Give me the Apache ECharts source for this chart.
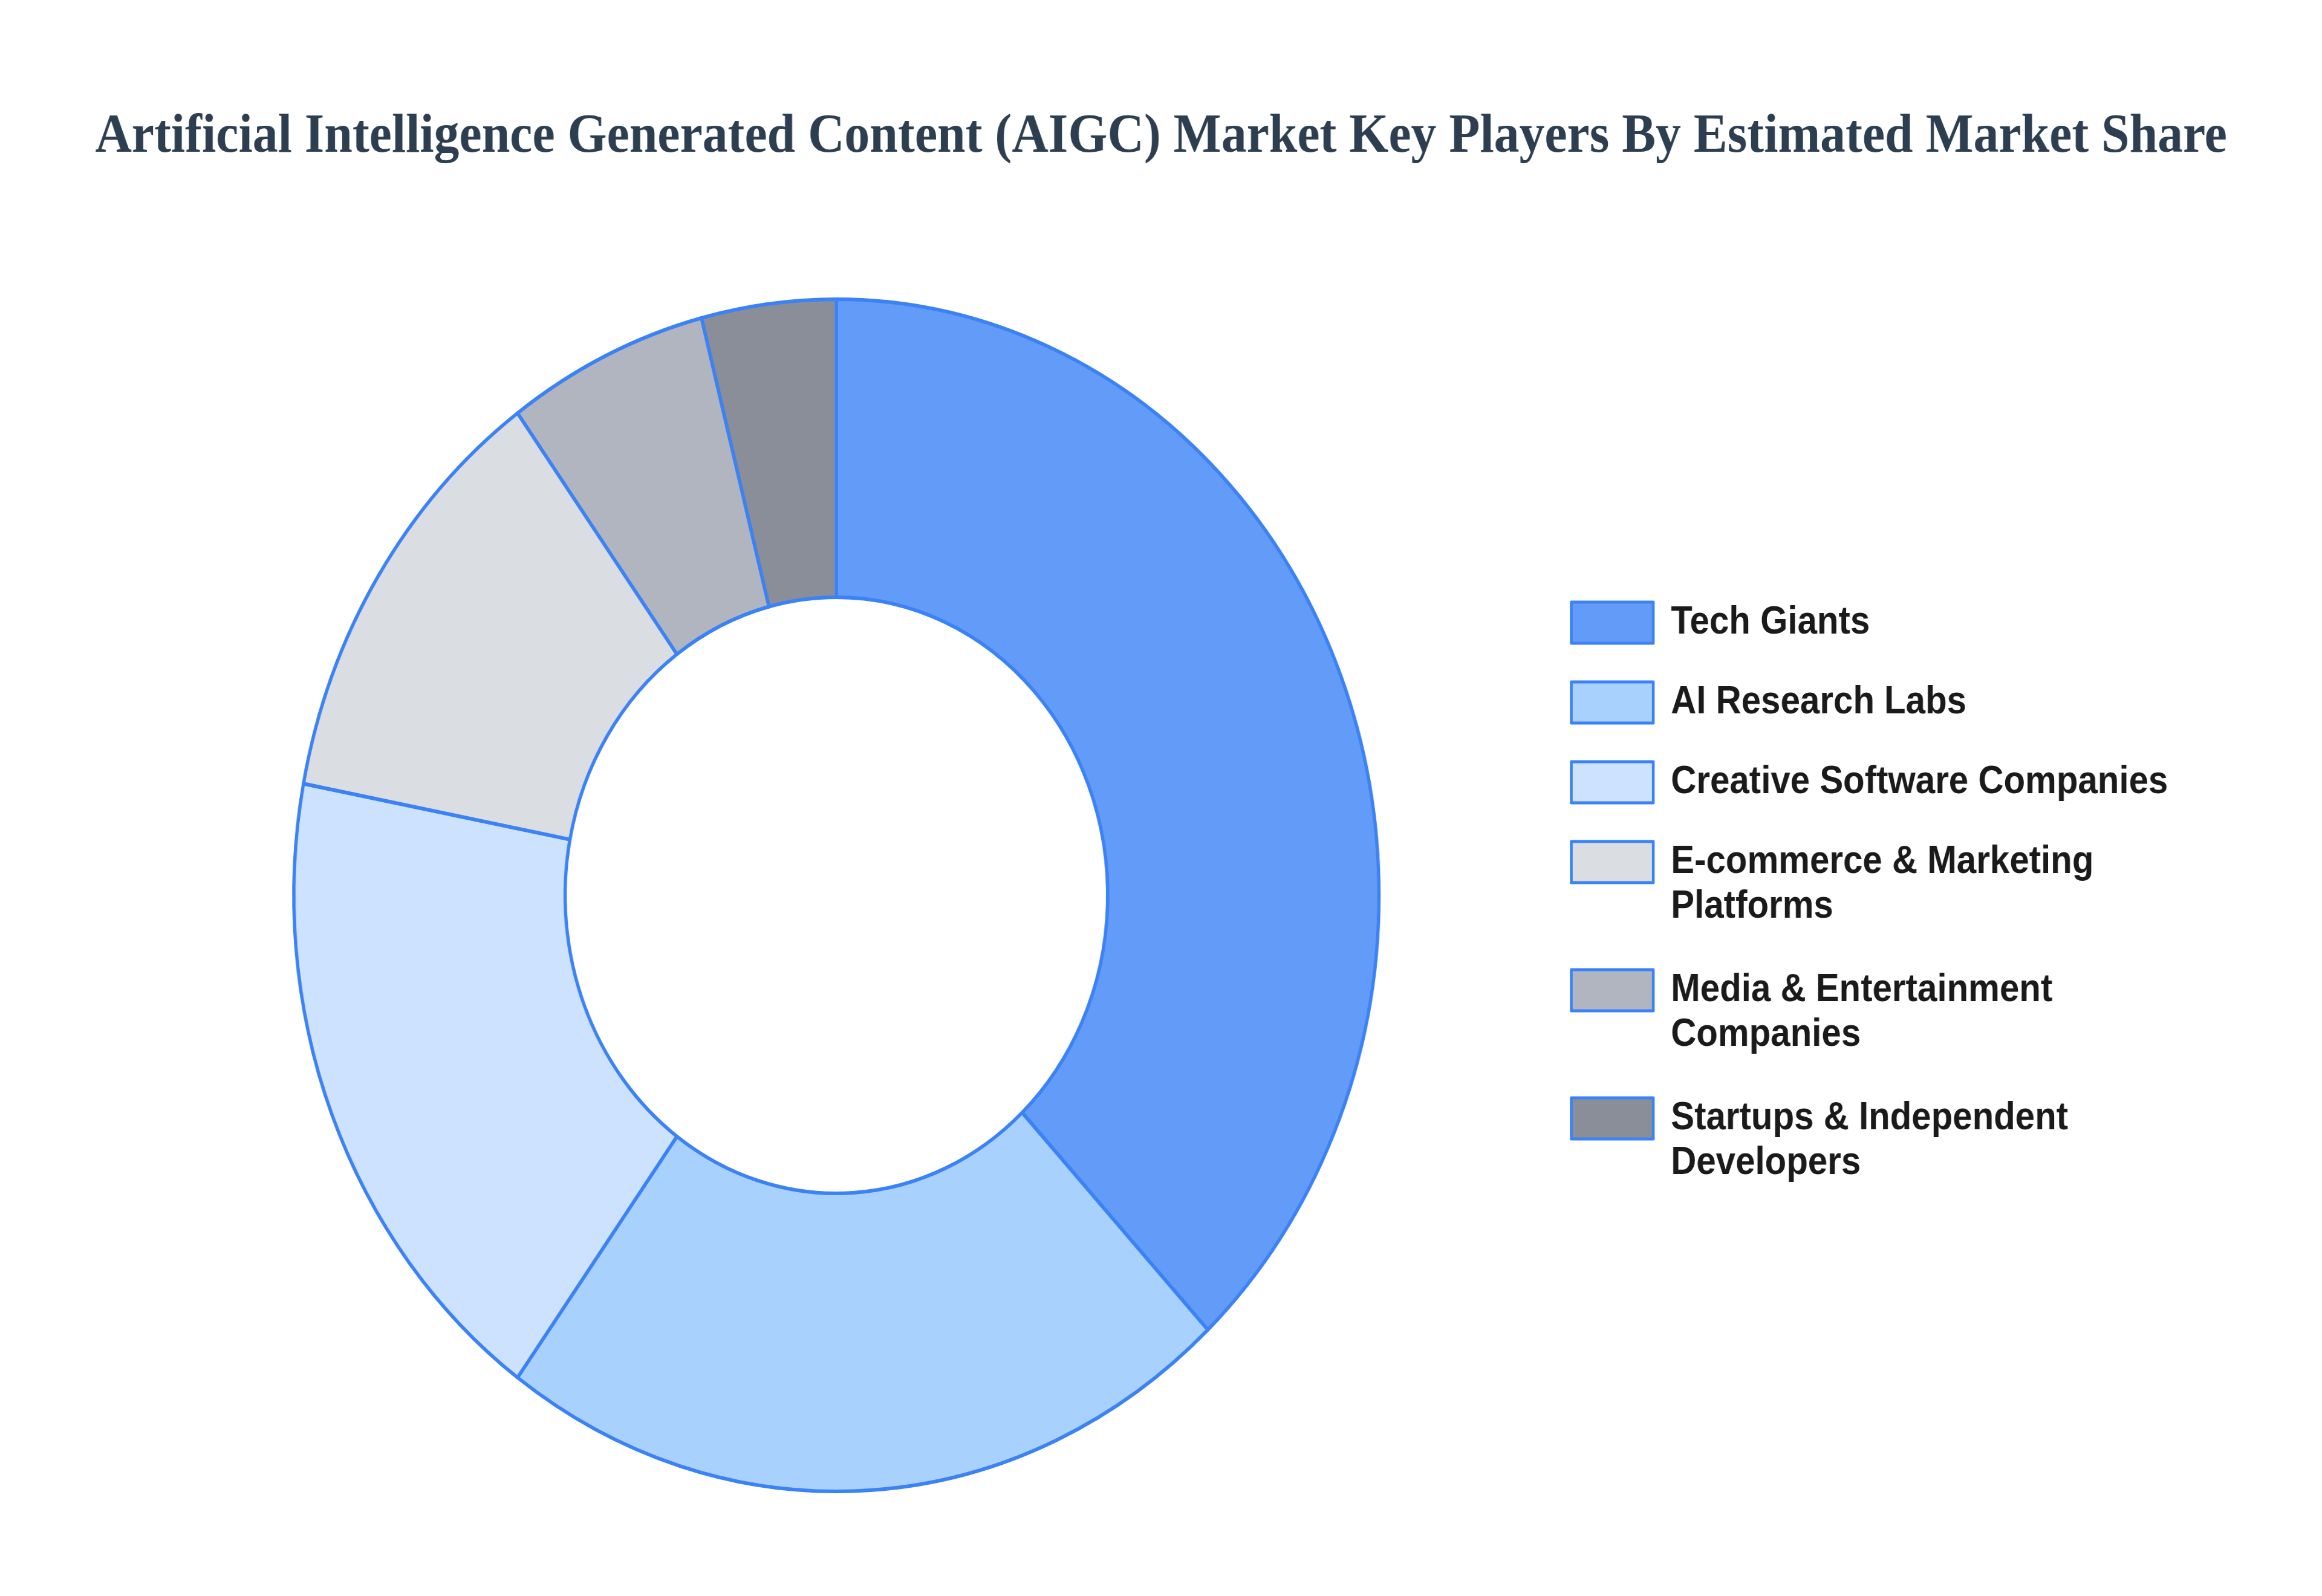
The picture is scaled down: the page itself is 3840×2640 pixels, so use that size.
<!DOCTYPE html>
<html>
<head>
    <meta charset="utf-8" />
    <title>AIGC Market Key Players</title>
    <script src="https://cdn.jsdelivr.net/npm/echarts@6/dist/echarts.min.js"></script>
    <style>
        html, body { margin: 0; padding: 0; overflow: hidden; background: #fff; }
        /* the reference is squeezed horizontally, so the chart is drawn wider and scaled back */
        #main { width: 4220px; height: 2640px; transform: scaleX(0.91); transform-origin: 0 0; }
    </style>
</head>
<body>
<div id="main"></div>
<script type="text/javascript">
    var titleText = 'Artificial Intelligence Generated Content (AIGC) Market Key Players By Estimated Market Share';
    var categories = ['Tech Giants', 'AI Research Labs', 'Creative Software Companies',
        'E-commerce & Marketing Platforms', 'Media & Entertainment Companies', 'Startups & Independent Developers'];
    var shares = [38, 22, 18, 12, 6, 4];
    var colors = ['rgba(59,130,246,0.8)', 'rgba(147,197,253,0.8)', 'rgba(191,219,254,0.8)',
        'rgba(209,213,219,0.8)', 'rgba(156,163,175,0.8)', 'rgba(107,114,128,0.8)'];

    // wrap long legend names like the reference does
    function wrap(name) {
        if (name.length <= 28) return name;
        var words = name.split(' '), lines = [], cur = '';
        words.forEach(function (w) {
            var next = cur ? cur + ' ' + w : w;
            if (next.length > 22 && cur) { lines.push(cur); cur = w; }
            else cur = next;
        });
        lines.push(cur);
        return lines.join('\n');
    }

    var myChart = echarts.init(document.getElementById('main'));

    var pieData = categories.map(function (c, i) {
        return { name: c, value: shares[i], itemStyle: { color: colors[i] } };
    });

    // one legend per entry so the icon lines up with the first text line
    var lineH = 74;
    var legends = [];
    var rowY = 1030;
    categories.forEach(function (c) {
        var extra = wrap(c).split('\n').length - 1;
        legends.push({
            orient: 'vertical',
            left: 2853,
            top: rowY - lineH / 2 - extra * lineH,
            padding: 0,
            itemWidth: 149,
            itemHeight: 68,
            icon: 'rect',
            data: [c],
            formatter: function (name) {
                var w = wrap(name);
                // blank lines on top keep the first line centred on the icon
                return new Array(extra + 1).join('\n') + w;
            },
            itemStyle: { borderColor: '#3b82f6', borderWidth: 5 },
            textStyle: {
                fontFamily: 'Liberation Sans, Arial, sans-serif',
                fontWeight: 'bold',
                fontSize: 64,
                lineHeight: lineH,
                padding: [0, 0, 0, 27],
                color: '#1a1a1a'
            }
        });
        rowY += 132 + extra * 80;
    });

    var option = {
        backgroundColor: '#ffffff',
        animation: false,
        title: {
            text: titleText,
            left: 'center',
            top: 176,
            textStyle: {
                fontFamily: 'Liberation Serif, Times New Roman, serif',
                fontWeight: 'bold',
                fontSize: 92,
                color: '#2c3e50'
            }
        },
        legend: legends,
        series: [
            {
                type: 'pie',
                center: [1520, 1481],
                radius: [493, 986],
                startAngle: 90,
                clockwise: true,
                label: { show: false },
                labelLine: { show: false },
                emphasis: { disabled: true },
                itemStyle: { borderColor: '#3b82f6', borderWidth: 6 },
                data: pieData
            }
        ]
    };

    myChart.setOption(option);
</script>
</body>
</html>
